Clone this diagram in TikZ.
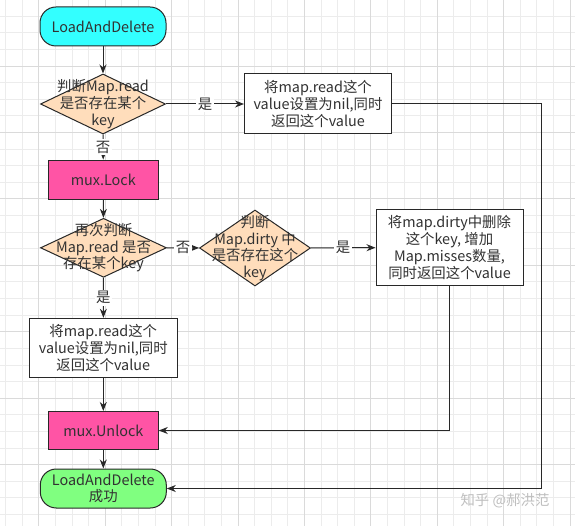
\documentclass[tikz,border=0pt]{standalone}
\usepackage{fontspec}
\setmainfont{Noto Sans CJK SC}
\usepackage{xcolor}
\usepackage{tikz}
\usetikzlibrary{shapes.geometric, arrows, arrows.meta, positioning, calc}
\definecolor{flujocian}{RGB}{51,255,255}
\definecolor{flujomelon}{RGB}{255,221,187}
\definecolor{flujorosa}{RGB}{255,84,165}
\definecolor{flujoverde}{RGB}{128,255,128}
\definecolor{flujoosc}{RGB}{40,40,40}
\definecolor{flujotexto}{RGB}{50,50,50}
\definecolor{rejillamen}{RGB}{236,236,236}
\definecolor{rejillamay}{RGB}{218,218,218}
\tikzset{
  inicio/.style={rectangle, rounded corners=16pt, minimum width=126pt, minimum height=39pt, text centered, draw=flujoosc, fill=flujocian, line width=1pt},
  fin/.style={rectangle, rounded corners=16pt, minimum width=126pt, minimum height=39pt, align=center, draw=flujoosc, fill=flujoverde, line width=1pt},
  decision/.style={diamond, inner sep=0pt, draw=flujoosc, fill=flujomelon, line width=1pt},
  candado/.style={rectangle, minimum width=110pt, minimum height=39pt, text centered, draw=flujoosc, fill=flujorosa, line width=1pt},
  accion/.style={rectangle, minimum width=147pt, minimum height=60pt, align=center, draw=flujoosc, fill=white, line width=1pt},
  texto/.style={align=center},
  etiq/.style={fill=white, inner sep=1.5pt},
  arrow/.style={line width=1pt,-{Stealth[length=9pt,width=7pt]},color=flujoosc},
  rejmen/.style={rejillamen, line width=0.8pt},
  rejmay/.style={rejillamay, line width=0.8pt}
}

\begin{document}
\begin{tikzpicture}[x=1pt, y=-1pt, font=\fontsize{14.4}{16.7}\selectfont, every node/.append style={text=flujotexto}]
  \useasboundingbox (0,0) rectangle (575,526);
  \fill[white] (0,0) rectangle (575,526);
  % rejilla de fondo
  \foreach \k in {0,...,34} \draw[rejmen] ({5.5+16.6*\k},0) -- ({5.5+16.6*\k},526);
  \foreach \k in {0,...,32} \draw[rejmen] (0,{16.6*\k-0.3}) -- (575,{16.6*\k-0.3});
  \foreach \k in {0,...,8} \draw[rejmay] ({38.7+66.4*\k},0) -- ({38.7+66.4*\k},526);
  \foreach \k in {1,...,7} \draw[rejmay] (0,{66.4*\k-0.3}) -- (575,{66.4*\k-0.3});

  \node (ini) [inicio] at (103,26.5) {LoadAndDelete};
  \node (d1) [decision, minimum width=125pt, minimum height=60pt] at (103,104) {};
  \node at (d1.center) [texto] {判断Map.read\\是否存在某个\\key};
  \node (r1) [accion] at (318,104) {将map.read这个\\value设置为nil,同时\\返回这个value};
  \node (lock) [candado] at (103.3,179.6) {mux.Lock};
  \node (d2) [decision, minimum width=126pt, minimum height=59pt] at (103.5,247.8) {};
  \node at (d2.center) [texto] {再次判断\\Map.read 是否\\存在某个key};
  \node (d3) [decision, minimum width=111pt, minimum height=76pt] at (255,248) {};
  \node at (d3.center) [texto] {判断\\Map.dirty 中\\是否存在这个\\key};
  \node (r3) [accion, minimum height=76pt] at (449.5,247.5) {将map.dirty中删除\\这个key, 增加\\Map.misses数量,\\同时返回这个value};
  \node (r2) [accion, minimum width=148pt, minimum height=59pt] at (103.3,347.8) {将map.read这个\\value设置为nil,同时\\返回这个value};
  \node (unlock) [candado, minimum height=38pt] at (103.3,430.5) {mux.Unlock};
  \node (fin) [fin] at (103.3,488.5) {LoadAndDelete\\成功};
  \node (marca) at (505,501) {\color{black!25}知乎 @郝洪范};
  \coordinate (bordeder) at (541,0);

  \draw [arrow] (ini) -- (d1);
  \draw [arrow] (d1) -- node[etiq] {是} (r1);
  \draw [arrow] (d1) -- node[etiq] {否} (lock);
  \draw [arrow] (lock) -- (d2);
  \draw [arrow] (d2) -- node[etiq] {否} (d3);
  \draw [arrow] (d3) -- node[etiq] {是} (r3);
  \draw [arrow] (d2) -- node[etiq] {是} (r2);
  \draw [arrow] (r2) -- (unlock);
  \draw [arrow] (unlock) -- (fin);
  \draw [arrow] (r3.south) |- (unlock.east);
  \draw [arrow] (r1.east) -| (bordeder |- fin.east) -- (fin.east);
\end{tikzpicture}
\end{document}
